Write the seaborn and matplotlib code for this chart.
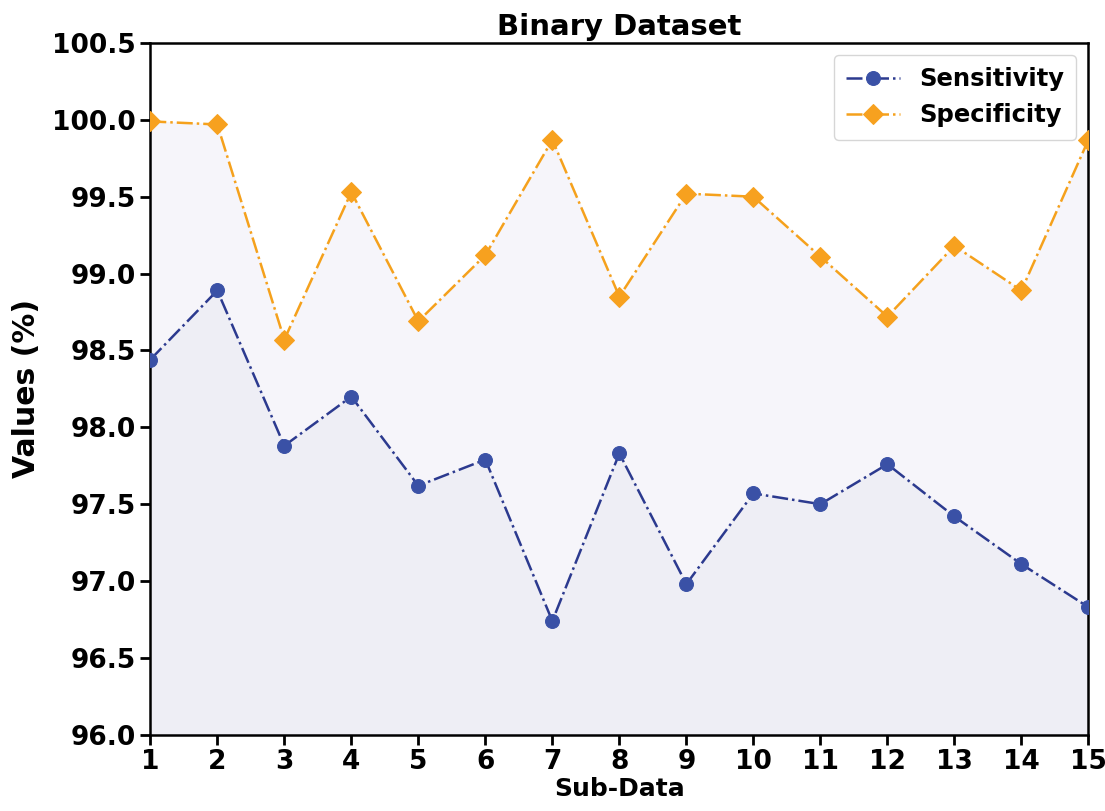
import numpy as np
import pandas as pd
import matplotlib
matplotlib.use("Agg")
import matplotlib.pyplot as plt
import seaborn as sns

# values
sub_data = list(range(1, 16))
sensitivity = [98.44, 98.89, 97.88, 98.20, 97.62, 97.79, 96.74, 97.83,
               96.98, 97.57, 97.50, 97.76, 97.42, 97.11, 96.83]
specificity = [99.99, 99.97, 98.57, 99.53, 98.69, 99.12, 99.87, 98.85,
               99.52, 99.50, 99.11, 98.72, 99.18, 98.89, 99.87]

sns.set_style("ticks")
plt.rcParams['font.family'] = ['DejaVu Sans']
plt.rcParams['font.weight'] = 'bold'
plt.rcParams['text.color'] = 'black'
plt.rcParams['axes.labelcolor'] = 'black'
plt.rcParams['xtick.color'] = 'black'
plt.rcParams['ytick.color'] = 'black'

fig = plt.figure(figsize=(11.05, 8.11), dpi=100)
ax = fig.add_axes([0.136, 0.094, 0.849, 0.853])

# shaded areas under each curve
ax.fill_between(sub_data, specificity, 96.0, color="#f6f5fa", zorder=0)
ax.fill_between(sub_data, sensitivity, 96.0, color="#eeeef5", zorder=1)

sns.lineplot(x=sub_data, y=sensitivity, ax=ax, color="#2c3a8f", linestyle="-.",
             linewidth=1.8, marker="o", markersize=10, markerfacecolor="#3a51a6",
             markeredgecolor="#3a51a6", label="Sensitivity", zorder=3)
sns.lineplot(x=sub_data, y=specificity, ax=ax, color="#f5a11c", linestyle="-.",
             linewidth=1.8, marker="D", markersize=10, markerfacecolor="#f7a11f",
             markeredgecolor="#f7a11f", label="Specificity", zorder=3)

ax.set_xlim(1, 15)
ax.set_ylim(96.0, 100.5)
ax.set_xticks(sub_data)
yt = np.arange(96.0, 100.51, 0.5)
ax.set_yticks(yt)
ax.set_yticklabels([f"{v:.1f}" for v in yt])
ax.tick_params(axis="both", labelsize=19, width=2, length=7)
for lbl in ax.get_xticklabels() + ax.get_yticklabels():
    lbl.set_fontweight("bold")
for sp in ax.spines.values():
    sp.set_linewidth(1.8)
    sp.set_color("black")

ax.set_title("Binary Dataset", fontsize=21, fontweight="bold", pad=6)
ax.set_ylabel("Values (%)", fontsize=21.5, fontweight="bold", labelpad=8)
# the reference crops this label at the bottom edge; keep it just inside
ax.set_xlabel("Sub-Data", fontsize=18, fontweight="bold", labelpad=1)

leg = ax.legend(loc="upper right", prop={"weight": "bold", "size": 17.5},
                frameon=True, borderpad=0.5, handlelength=2.2)
leg.get_frame().set_edgecolor("#cccccc")

fig.savefig("out.png", dpi=100)
